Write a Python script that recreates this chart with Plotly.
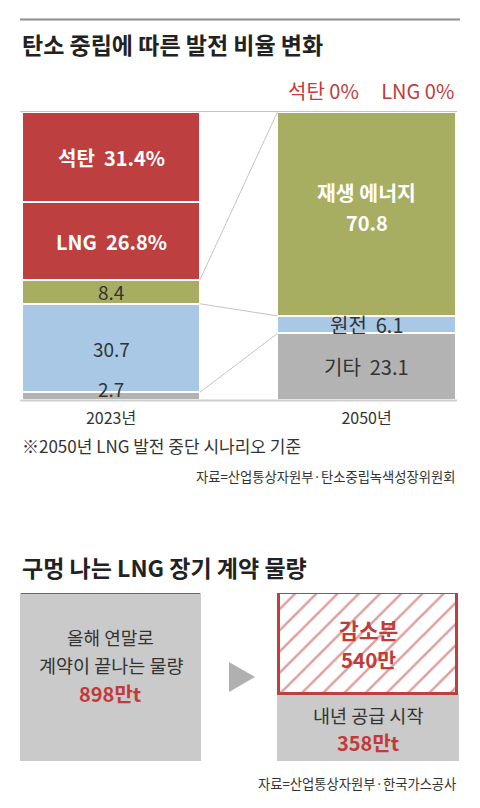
import plotly.graph_objects as go

# 발전 비율 (%)
years = ["2023년", "2050년"]
other = [2.7, 23.1]       # 기타
nuclear = [30.7, 6.1]     # 원전
renew = [8.4, 70.8]       # 재생 에너지
lng = [26.8, 0]           # LNG
coal = [31.4, 0]          # 석탄

# LNG 장기 계약 물량 (만t)
boxes = ["종료 물량", "내년 공급"]
ending = [898, 0]
supply = [0, 358]
cut = [0, 540]

# 페이지 여백(8px)을 빼고 그림 크기를 잡음
W, H = 464, 792
OFF = 8
FONT = "Noto Sans CJK KR"
RED = "#bd3f3f"
TXT_RED = "#c23b3b"
GREEN = "#a8ae61"
BLUE = "#a9c8e5"
GRAY = "#b3b3b3"
BOXGRAY = "#c9cac9"
DARK = "#333333"


def px(p):
    return (p - OFF) / W


def py(p):
    return 1 - (p - OFF) / H


fig = go.Figure()

# 위 그래프: 누적 막대
bw = 0.697
for name, vals, col in [("기타", other, GRAY), ("원전", nuclear, BLUE),
                        ("재생 에너지", renew, GREEN), ("LNG", lng, RED),
                        ("석탄", coal, RED)]:
    fig.add_trace(go.Bar(x=years, y=vals, name=name, marker_color=col,
                         marker_line_color="white", marker_line_width=2,
                         width=bw, xaxis="x", yaxis="y", hoverinfo="skip"))

# 연결선
cum_left = [other[0], other[0] + nuclear[0], other[0] + nuclear[0] + renew[0]]
cum_right = [other[1], other[1] + nuclear[1], other[1] + nuclear[1] + renew[1]]
for a, b in zip(cum_left, cum_right):
    fig.add_shape(type="line", xref="x", yref="y",
                  x0=0 + bw / 2, x1=1 - bw / 2, y0=a, y1=b,
                  line=dict(color="#c4c4c4", width=1))

ann = []


def label(x, y, text, color, size, bold=False, yshift=0, xref="x", yref="y"):
    t = f"<b>{text}</b>" if bold else text
    ann.append(dict(x=x, y=y, xref=xref, yref=yref, text=t, showarrow=False,
                    xanchor="center", yanchor="middle",
                    font=dict(family=FONT, size=size, color=color), yshift=yshift))


def ptext(x, y, text, size, color, anchor="left"):
    ann.append(dict(x=px(x), y=py(y), xref="paper", yref="paper", xanchor=anchor,
                    yanchor="middle", text=text, showarrow=False,
                    font=dict(family=FONT, size=size, color=color)))


y_coal = other[0] + nuclear[0] + renew[0] + lng[0] + coal[0] / 2
y_lng = other[0] + nuclear[0] + renew[0] + lng[0] / 2
label(years[0], y_coal, f"석탄  {coal[0]}%", "white", 20, True)
label(years[0], y_lng, f"LNG  {lng[0]}%", "white", 20, True)
label(years[0], other[0] + nuclear[0] + renew[0] / 2, f"{renew[0]}", DARK, 19)
label(years[0], other[0] + nuclear[0] / 2, f"{nuclear[0]}", DARK, 19)
label(years[0], other[0] / 2, f"{other[0]}", DARK, 19, yshift=8)
y_ren = other[1] + nuclear[1] + renew[1] / 2
label(years[1], y_ren, "재생 에너지", "white", 20.5, True, yshift=22)
label(years[1], y_ren, f"{renew[1]}", "white", 20, True, yshift=-9)
label(years[1], other[1] + nuclear[1] / 2, f"원전  {nuclear[1]}", DARK, 20)
label(years[1], other[1] / 2, f"기타  {other[1]}", DARK, 20)

# 0% 표시
ptext(456, 90, f"석탄 {coal[1]}%&nbsp;&nbsp;&nbsp;&nbsp;&nbsp;LNG {lng[1]}%", 20, TXT_RED, "right")

# 제목 및 주석
ptext(20, 44, "<b>탄소 중립에 따른 발전 비율 변화</b>", 23, "#222222")
ptext(20, 446, "※2050년 LNG 발전 중단 시나리오 기준", 17, DARK)
ptext(458, 476, "자료=산업통상자원부·탄소중립녹색성장위원회", 13.3, DARK, "right")
ptext(20, 567, "<b>구멍 나는 LNG 장기 계약 물량</b>", 23, "#222222")
ptext(458, 783, "자료=산업통상자원부·한국가스공사", 13.3, DARK, "right")

# 아래 그래프: 계약 물량 상자
bw2 = 0.703
fig.add_trace(go.Bar(x=boxes, y=ending, marker_color=BOXGRAY, width=bw2,
                     marker_line_width=0, xaxis="x2", yaxis="y2", hoverinfo="skip"))
fig.add_trace(go.Bar(x=boxes, y=supply, marker_color=BOXGRAY, width=bw2,
                     marker_line_width=0, xaxis="x2", yaxis="y2", hoverinfo="skip"))
fig.add_trace(go.Bar(x=boxes, y=cut, width=bw2 - 0.01, xaxis="x2", yaxis="y2",
                     marker=dict(color="white", line=dict(color=RED, width=2.6),
                                 pattern=dict(shape="/", fgcolor=RED, bgcolor="white",
                                              size=15, solidity=0.17)),
                     hoverinfo="skip"))

label(boxes[0], ending[0] / 2, "올해 연말로", DARK, 18, yref="y2", xref="x2", yshift=40)
label(boxes[0], ending[0] / 2, "계약이 끝나는 물량", DARK, 18.5, yref="y2", xref="x2", yshift=12)
label(boxes[0], ending[0] / 2, f"{ending[0]}만t", TXT_RED, 20, True, yref="y2", xref="x2", yshift=-16)
label(boxes[1], supply[1] + cut[1] / 2, "감소분", TXT_RED, 21.5, True, yref="y2", xref="x2", yshift=14)
label(boxes[1], supply[1] + cut[1] / 2, f"{cut[1]}만", TXT_RED, 20.5, True, yref="y2", xref="x2", yshift=-15)
label(boxes[1], supply[1] / 2, "내년 공급 시작", DARK, 18.5, yref="y2", xref="x2", yshift=13)
label(boxes[1], supply[1] / 2, f"{supply[1]}만t", TXT_RED, 20, True, yref="y2", xref="x2", yshift=-15)

# 화살표 삼각형
fig.add_shape(type="path", xref="paper", yref="paper",
              path=f"M {px(229)} {py(662)} L {px(255)} {py(677)} L {px(229)} {py(692)} Z",
              fillcolor="#b0b0b0", line=dict(width=0))

# 구분선
fig.add_shape(type="line", xref="paper", yref="paper", x0=px(20), x1=px(460),
              y0=py(19.5), y1=py(19.5), line=dict(color="#8c8c8c", width=2))
fig.add_shape(type="line", xref="paper", yref="paper", x0=px(20), x1=px(457),
              y0=py(111.5), y1=py(111.5), line=dict(color="#c4c4c4", width=1))
fig.add_shape(type="line", xref="paper", yref="paper", x0=px(20), x1=px(457),
              y0=py(400.5), y1=py(400.5), line=dict(color="#cfcfcf", width=2))

fig.update_layout(
    width=W, height=H, margin=dict(l=0, r=0, t=0, b=0),
    paper_bgcolor="white", plot_bgcolor="white",
    barmode="stack", bargap=0, showlegend=False,
    annotations=ann,
    xaxis=dict(domain=[px(20), px(457)], range=[-0.3562, 1.3542],
               showgrid=False, zeroline=False, showline=False,
               ticks="outside", ticklen=4, tickcolor="rgba(0,0,0,0)",
               tickfont=dict(family=FONT, size=16, color=DARK), fixedrange=True),
    yaxis=dict(domain=[py(400), py(112)], range=[0, 100], visible=False, fixedrange=True),
    xaxis2=dict(domain=[px(20), px(460)], range=[-0.3515, 1.3573], visible=False,
                anchor="y2", fixedrange=True),
    yaxis2=dict(domain=[py(761), py(593)], range=[0, 898], visible=False,
                anchor="x2", fixedrange=True),
)

fig.write_html("out.html")
